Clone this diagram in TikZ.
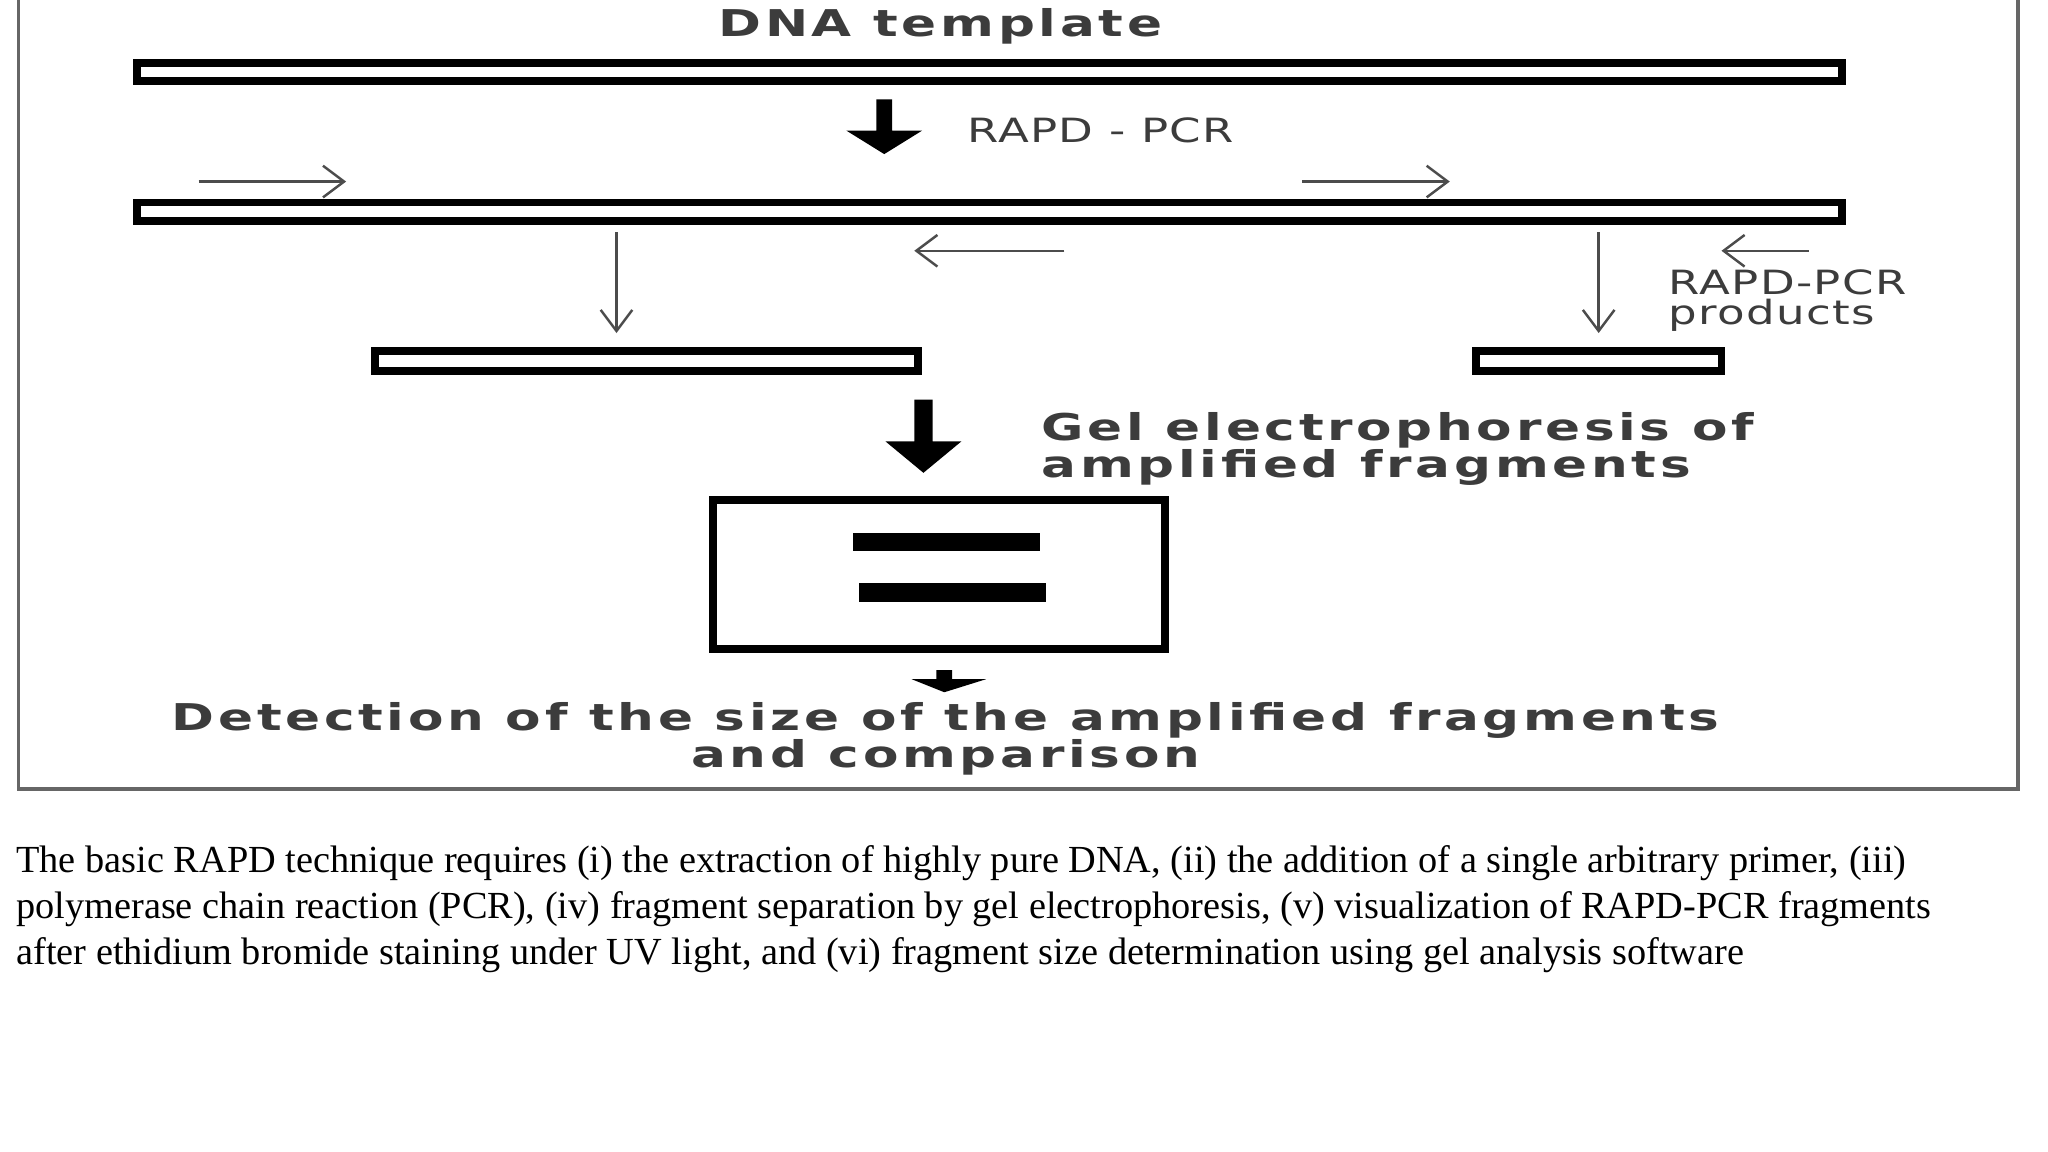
\documentclass[tikz,border=0pt]{standalone}
\usepackage{fontspec}
\setmainfont{Liberation Serif}
\newfontfamily\diafont[LetterSpace=4,FakeStretch=1.35]{DejaVu Sans}
\newfontfamily\diafontb[LetterSpace=10,FakeStretch=1.4]{DejaVu Sans}
\usetikzlibrary{arrows.meta}
\definecolor{txtgray}{RGB}{60,60,60}
\tikzset{
  bar/.style={draw=black,line width=2.2pt},
  big/.style={fill=black},
  thin/.style={draw=black!70,line width=0.7pt,-{Straight Barb[length=6pt,width=9pt]}},
  lbl/.style={font=\diafont\fontsize{9.5pt}{8.5pt}\selectfont,text=txtgray,inner sep=0pt},
  lblb/.style={font=\diafontb\bfseries\fontsize{10.5pt}{10.5pt}\selectfont,text=txtgray,inner sep=0pt}
}
\begin{document}
\begin{tikzpicture}[x=0.013061cm,y=-0.013061cm]
\useasboundingbox (0,0) rectangle (1568,882);
\fill[white] (0,0) rectangle (1568,882);
\draw[black!60,line width=1pt] (14,0) -- (14,604) -- (1545,604) -- (1545,0);
\node[lblb] (t1) at (720,20) {DNA template};
\draw[bar] (105,48) rectangle (1410,62);
\fill[big] (671,76) -- (683,76) -- (683,100) -- (706,100) -- (677,118) -- (648,100) -- (671,100) -- cycle;
\node[lbl,anchor=west] (t2) at (740,100) {RAPD - PCR};
\coordinate (p1s) at (152,139); \coordinate (p1e) at (265,139);
\coordinate (p2s) at (997,139); \coordinate (p2e) at (1110,139);
\draw[thin] (p1s) -- (p1e); \draw[thin] (p2s) -- (p2e);
\draw[bar] (105,155) rectangle (1410,169);
\coordinate (d1s) at (472,178); \coordinate (d1e) at (472,255);
\coordinate (d2s) at (1224,178); \coordinate (d2e) at (1224,255);
\draw[thin] (d1s) -- (d1e); \draw[thin] (d2s) -- (d2e);
\coordinate (q1s) at (815,192); \coordinate (q1e) at (700,192);
\coordinate (q2s) at (1385,192); \coordinate (q2e) at (1318,192);
\draw[thin] (q1s) -- (q1e); \draw[thin] (q2s) -- (q2e);
\node[lbl,anchor=north west,align=left] (t3) at (1277,206) {RAPD-PCR\\products};
\draw[bar] (287,269) rectangle (703,284);
\draw[bar] (1130,269) rectangle (1318,284);
\fill[big] (700,306) -- (714,306) -- (714,338) -- (736,338) -- (707,362) -- (678,338) -- (700,338) -- cycle;
\node[lblb,anchor=north west,align=left] (t4) at (797,315) {Gel electrophoresis of\\amplified fragments};
\draw[bar] (546,383) rectangle (892,497);
\fill (653,408) rectangle (796,422);
\fill (658,446) rectangle (801,461);
\fill[big] (717,513) -- (729,513) -- (729,520) -- (755,520) -- (723,530) -- (698,520) -- (717,520) -- cycle;
\node[lblb,align=center,anchor=north] (t5) at (724,537) {Detection of the size of the amplified fragments\\and comparison};
\node[anchor=north west,align=left,inner sep=0pt,font=\fontsize{10.9pt}{13.1pt}\selectfont] (cap) at (12,647)
{The basic RAPD technique requires (i) the extraction of highly pure DNA, (ii) the addition of a single arbitrary primer, (iii)\\
polymerase chain reaction (PCR), (iv) fragment separation by gel electrophoresis, (v) visualization of RAPD-PCR fragments\\
after ethidium bromide staining under UV light, and (vi) fragment size determination using gel analysis software};
\end{tikzpicture}
\end{document}
